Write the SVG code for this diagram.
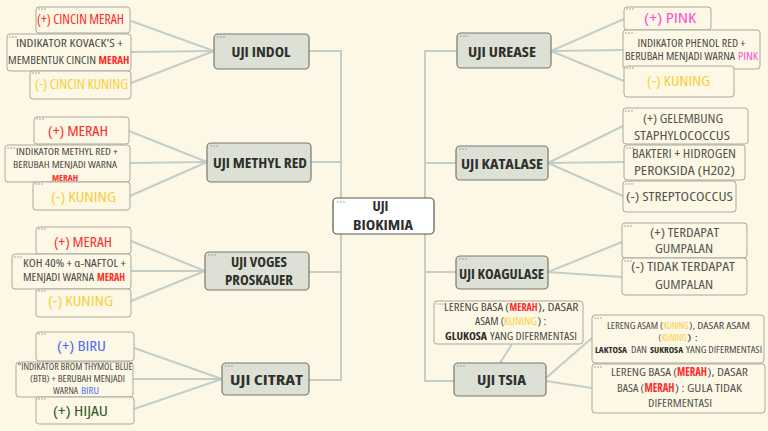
<svg xmlns="http://www.w3.org/2000/svg" width="768" height="431" viewBox="0 0 768 431">
<defs>
<style>
.bg{fill:#fdf8e6}
.main{fill:#dde0d5;stroke:#77786f;stroke-width:1.2}
.root{fill:#ffffff;stroke:#55564f;stroke-width:1.2}
.leaf{fill:#fdf8e6;stroke:#a9a89d;stroke-width:1}
.conn line,.conn polyline{stroke:#c3cec9;stroke-width:2;fill:none}
text{font-family:"Open Sans","Liberation Sans",sans-serif;font-stretch:75%;text-anchor:middle}
text.s{text-anchor:start}
.mt{font-size:14.5px;font-weight:700;fill:#2f302c}
.rt{font-size:13.5px;font-weight:700;fill:#2f302c}
.ct{font-size:15px}
.st{font-size:11px;fill:#4a4a45}
.xs{font-size:9.5px;fill:#4a4a45}
.x10{font-size:10px;fill:#4a4a45}
.x9{font-size:8.5px;fill:#4a4a45}
.tn{font-size:8.5px;fill:#4a4a45}
.gt{font-size:12.3px;fill:#55554f}
.g12{font-size:11.5px;fill:#55554f}
text.r{fill:#ff2b2b}
text.rb{fill:#ff2b2b;font-weight:700}
text.y{fill:#f5cf3c}
text.p{fill:#ff4fcf}
text.b{fill:#4c6ef5}
text.g{fill:#2d5f22}
text.k{fill:#2a2a26;font-weight:700}
.dot{fill:#9a998f}
</style>
<symbol id="dots" viewBox="0 0 8 2" width="8" height="2"><circle class="dot" cx="1" cy="1" r="0.8"/><circle class="dot" cx="4" cy="1" r="0.8"/><circle class="dot" cx="7" cy="1" r="0.8"/></symbol>
</defs>
<rect class="bg" x="0" y="0" width="768" height="431"/>

<g id="connectors" class="conn">
<polyline points="309,51 341,51 341,380 309,380"/>
<line x1="311" y1="162" x2="341" y2="162"/>
<line x1="309" y1="272" x2="341" y2="272"/>
<polyline points="457,51 425,51 425,381 454,381"/>
<line x1="425" y1="163" x2="456" y2="163"/>
<line x1="425" y1="272" x2="456" y2="272"/>
<line x1="214" y1="51" x2="131" y2="21"/>
<line x1="214" y1="51" x2="131" y2="52"/>
<line x1="214" y1="51" x2="131" y2="83"/>
<line x1="207" y1="162" x2="129" y2="131"/>
<line x1="207" y1="162" x2="130" y2="163"/>
<line x1="207" y1="162" x2="130" y2="196"/>
<line x1="205" y1="271" x2="131" y2="241"/>
<line x1="205" y1="271" x2="131" y2="271"/>
<line x1="205" y1="271" x2="131" y2="301"/>
<line x1="222" y1="379" x2="134" y2="348"/>
<line x1="222" y1="379" x2="133" y2="379"/>
<line x1="222" y1="379" x2="134" y2="409"/>
<line x1="551" y1="51" x2="624" y2="19"/>
<line x1="551" y1="51" x2="623" y2="50"/>
<line x1="551" y1="51" x2="624" y2="81"/>
<line x1="548" y1="163" x2="623" y2="126"/>
<line x1="548" y1="163" x2="624" y2="162"/>
<line x1="548" y1="163" x2="623" y2="196"/>
<line x1="548" y1="272" x2="622" y2="242"/>
<line x1="548" y1="272" x2="622" y2="277"/>
<line x1="500" y1="363" x2="512" y2="344"/>
<line x1="546" y1="378" x2="592" y2="338"/>
<line x1="546" y1="381" x2="592" y2="388"/>
</g>

<g id="root">
<rect class="root" x="333" y="198" width="101" height="36" rx="4"/>
<use href="#dots" x="337" y="201"/>
<text class="rt" x="380.5" y="211" textLength="16" lengthAdjust="spacingAndGlyphs">UJI</text>
<text class="rt" x="383" y="229.5" textLength="60" lengthAdjust="spacingAndGlyphs">BIOKIMIA</text>
</g>

<g id="uji-indol">
<rect class="main" x="214" y="34" width="95" height="35" rx="4"/>
<use href="#dots" x="217" y="36"/>
<text class="mt" x="261" y="57" textLength="59" lengthAdjust="spacingAndGlyphs">UJI INDOL</text>
</g>
<g id="indol-pos">
<rect class="leaf" x="36" y="7" width="94" height="26" rx="3"/>
<use href="#dots" x="38" y="8"/>
<text class="ct r" x="80.5" y="24" textLength="87" lengthAdjust="spacingAndGlyphs">(+) CINCIN MERAH</text>
</g>
<g id="indol-desc">
<rect class="leaf" x="7" y="34" width="124" height="37" rx="3"/>
<use href="#dots" x="9" y="36"/>
<text class="st" x="69.5" y="47" textLength="107" lengthAdjust="spacingAndGlyphs">INDIKATOR KOVACK'S +</text>
<text class="st s" x="8" y="64" textLength="88" lengthAdjust="spacingAndGlyphs">MEMBENTUK CINCIN</text>
<text class="st s rb" x="98.5" y="64" textLength="31" lengthAdjust="spacingAndGlyphs">MERAH</text>
</g>
<g id="indol-neg">
<rect class="leaf" x="30" y="71" width="101" height="28" rx="3"/>
<use href="#dots" x="32" y="72"/>
<text class="ct y" x="81.5" y="89" textLength="93" lengthAdjust="spacingAndGlyphs">(-) CINCIN KUNING</text>
</g>

<g id="uji-methyl-red">
<rect class="main" x="207" y="143" width="104" height="39" rx="4"/>
<use href="#dots" x="210" y="145"/>
<text class="mt" x="260" y="168" textLength="94" lengthAdjust="spacingAndGlyphs">UJI METHYL RED</text>
</g>
<g id="mr-pos">
<rect class="leaf" x="34" y="117" width="95" height="27" rx="3"/>
<use href="#dots" x="36" y="118"/>
<text class="ct r" x="78" y="136" textLength="60" lengthAdjust="spacingAndGlyphs">(+) MERAH</text>
</g>
<g id="mr-desc">
<rect class="leaf" x="5" y="145" width="125" height="37" rx="3"/>
<use href="#dots" x="7" y="147"/>
<text class="xs" x="67" y="155" textLength="102" lengthAdjust="spacingAndGlyphs">INDIKATOR METHYL RED +</text>
<text class="xs" x="65" y="167.5" textLength="104" lengthAdjust="spacingAndGlyphs">BERUBAH MENJADI  WARNA</text>
<text class="xs rb" x="65" y="181" textLength="26" lengthAdjust="spacingAndGlyphs">MERAH</text>
</g>
<g id="mr-neg">
<rect class="leaf" x="33" y="182" width="97" height="28" rx="3"/>
<use href="#dots" x="35" y="183"/>
<text class="ct y" x="83.5" y="202" textLength="65" lengthAdjust="spacingAndGlyphs">(-) KUNING</text>
</g>

<g id="uji-voges-proskauer">
<rect class="main" x="205" y="252" width="104" height="38" rx="4"/>
<use href="#dots" x="208" y="254"/>
<text class="mt" x="259" y="267" textLength="56" lengthAdjust="spacingAndGlyphs">UJI VOGES</text>
<text class="mt" x="259" y="285" textLength="68" lengthAdjust="spacingAndGlyphs">PROSKAUER</text>
</g>
<g id="vp-pos">
<rect class="leaf" x="36" y="227" width="95" height="27" rx="3"/>
<use href="#dots" x="38" y="228"/>
<text class="ct r" x="83" y="247" textLength="58" lengthAdjust="spacingAndGlyphs">(+) MERAH</text>
</g>
<g id="vp-desc">
<rect class="leaf" x="12" y="254" width="119" height="35" rx="3"/>
<use href="#dots" x="14" y="256"/>
<text class="x10" x="74.5" y="267" textLength="103" lengthAdjust="spacingAndGlyphs">KOH 40% + α-NAFTOL +</text>
<text class="x10 s" x="23" y="281" textLength="71" lengthAdjust="spacingAndGlyphs">MENJADI WARNA</text>
<text class="x10 s rb" x="97" y="281" textLength="28" lengthAdjust="spacingAndGlyphs">MERAH</text>
</g>
<g id="vp-neg">
<rect class="leaf" x="36" y="289" width="95" height="28" rx="3"/>
<use href="#dots" x="38" y="290"/>
<text class="ct y" x="80.5" y="306" textLength="65" lengthAdjust="spacingAndGlyphs">(-) KUNING</text>
</g>

<g id="uji-citrat">
<rect class="main" x="222" y="363" width="87" height="32" rx="4"/>
<use href="#dots" x="225" y="365"/>
<text class="mt" x="266.5" y="385" textLength="73" lengthAdjust="spacingAndGlyphs">UJI CITRAT</text>
</g>
<g id="ct-pos">
<rect class="leaf" x="36" y="332" width="98" height="29" rx="3"/>
<use href="#dots" x="38" y="333"/>
<text class="ct b" x="81.5" y="351" textLength="49" lengthAdjust="spacingAndGlyphs">(+) BIRU</text>
</g>
<g id="ct-desc">
<rect class="leaf" x="16" y="362" width="117" height="35" rx="3"/>
<text class="x9" x="75" y="370" textLength="115" lengthAdjust="spacingAndGlyphs">"INDIKATOR BROM THYMOL BLUE</text>
<text class="x9" x="77.5" y="382" textLength="95" lengthAdjust="spacingAndGlyphs">(BTB) + BERUBAH MENJADI</text>
<text class="x9 s" x="53" y="394" textLength="25" lengthAdjust="spacingAndGlyphs">WARNA</text>
<text class="x9 s b" x="81" y="394" textLength="18" lengthAdjust="spacingAndGlyphs">BIRU</text>
</g>
<g id="ct-hijau">
<rect class="leaf" x="36" y="397" width="98" height="27" rx="3"/>
<use href="#dots" x="38" y="398"/>
<text class="ct g" x="80.5" y="416" textLength="55" lengthAdjust="spacingAndGlyphs">(+) HIJAU</text>
</g>

<g id="uji-urease">
<rect class="main" x="457" y="33" width="94" height="35" rx="4"/>
<use href="#dots" x="460" y="35"/>
<text class="mt" x="502" y="57" textLength="68" lengthAdjust="spacingAndGlyphs">UJI UREASE</text>
</g>
<g id="ur-pos">
<rect class="leaf" x="624" y="7" width="87" height="23" rx="3"/>
<use href="#dots" x="626" y="8"/>
<text class="ct p" x="670" y="23" style="font-size:14px" textLength="52" lengthAdjust="spacingAndGlyphs">(+) PINK</text>
</g>
<g id="ur-desc">
<rect class="leaf" x="623" y="30" width="137" height="39" rx="3"/>
<use href="#dots" x="625" y="32"/>
<text class="x10" x="691.5" y="46.5" textLength="108" lengthAdjust="spacingAndGlyphs">INDIKATOR PHENOL RED +</text>
<text class="x10 s" x="625" y="60" textLength="110" lengthAdjust="spacingAndGlyphs">BERUBAH MENJADI WARNA</text>
<text class="x10 s p" x="738" y="60" textLength="20" lengthAdjust="spacingAndGlyphs">PINK</text>
</g>
<g id="ur-neg">
<rect class="leaf" x="624" y="66" width="110" height="31" rx="3"/>
<use href="#dots" x="626" y="67"/>
<text class="ct y" x="678.5" y="86" textLength="63" lengthAdjust="spacingAndGlyphs">(-) KUNING</text>
</g>

<g id="uji-katalase">
<rect class="main" x="456" y="146" width="92" height="34" rx="4"/>
<use href="#dots" x="459" y="148"/>
<text class="mt" x="502" y="169" textLength="82" lengthAdjust="spacingAndGlyphs">UJI KATALASE</text>
</g>
<g id="kt-pos">
<rect class="leaf" x="623" y="108" width="125" height="36" rx="3"/>
<use href="#dots" x="625" y="110"/>
<text class="gt" x="683" y="123" textLength="80" lengthAdjust="spacingAndGlyphs">(+) GELEMBUNG</text>
<text class="gt" x="682" y="140" textLength="96" lengthAdjust="spacingAndGlyphs">STAPHYLOCOCCUS</text>
</g>
<g id="kt-desc">
<rect class="leaf" x="624" y="145" width="121" height="35" rx="3"/>
<use href="#dots" x="626" y="147"/>
<text class="gt" x="684" y="158" textLength="104" lengthAdjust="spacingAndGlyphs">BAKTERI + HIDROGEN</text>
<text class="gt" x="684.5" y="175" textLength="101" lengthAdjust="spacingAndGlyphs">PEROKSIDA (H202)</text>
</g>
<g id="kt-neg">
<rect class="leaf" x="623" y="181" width="113" height="31" rx="3"/>
<use href="#dots" x="625" y="183"/>
<text class="gt" x="679.5" y="201" textLength="107" lengthAdjust="spacingAndGlyphs">(-) STREPTOCOCCUS</text>
</g>

<g id="uji-koagulase">
<rect class="main" x="456" y="256" width="92" height="33" rx="4"/>
<use href="#dots" x="459" y="258"/>
<text class="mt" x="501.5" y="279" textLength="85" lengthAdjust="spacingAndGlyphs">UJI KOAGULASE</text>
</g>
<g id="ko-pos">
<rect class="leaf" x="622" y="223" width="125" height="35" rx="3"/>
<use href="#dots" x="624" y="225"/>
<text class="gt" x="684.5" y="236.5" textLength="69" lengthAdjust="spacingAndGlyphs">(+) TERDAPAT</text>
<text class="gt" x="684" y="253" textLength="58" lengthAdjust="spacingAndGlyphs">GUMPALAN</text>
</g>
<g id="ko-neg">
<rect class="leaf" x="622" y="258" width="125" height="37" rx="3"/>
<use href="#dots" x="624" y="260"/>
<text class="gt" x="683" y="271" textLength="104" lengthAdjust="spacingAndGlyphs">(-) TIDAK TERDAPAT</text>
<text class="gt" x="684" y="289" textLength="58" lengthAdjust="spacingAndGlyphs">GUMPALAN</text>
</g>

<g id="uji-tsia">
<rect class="main" x="454" y="363" width="92" height="33" rx="4"/>
<use href="#dots" x="457" y="365"/>
<text class="mt" x="501.5" y="385" textLength="49" lengthAdjust="spacingAndGlyphs">UJI TSIA</text>
</g>
<g id="ts-glukosa">
<rect class="leaf" x="434" y="301" width="149" height="43" rx="3"/>
<use href="#dots" x="436" y="303"/>
<text class="x10 s" x="444" y="311" textLength="65" lengthAdjust="spacingAndGlyphs">LERENG BASA (</text>
<text class="x10 s rb" x="509.5" y="311" textLength="28" lengthAdjust="spacingAndGlyphs">MERAH</text>
<text class="x10 s" x="538" y="311" textLength="40.5" lengthAdjust="spacingAndGlyphs">), DASAR</text>
<text class="x10 s" x="475" y="325" textLength="29" lengthAdjust="spacingAndGlyphs">ASAM (</text>
<text class="x10 s y" x="504" y="325" textLength="33" lengthAdjust="spacingAndGlyphs">KUNING</text>
<text class="x10 s" x="537.5" y="325" textLength="9" lengthAdjust="spacingAndGlyphs">) :</text>
<text class="x10 s k" x="445" y="340" textLength="42" lengthAdjust="spacingAndGlyphs">GLUKOSA</text>
<text class="x10 s" x="490" y="340" textLength="87" lengthAdjust="spacingAndGlyphs">YANG DIFERMENTASI</text>
</g>
<g id="ts-laktosa">
<rect class="leaf" x="592" y="315" width="172" height="48" rx="3"/>
<use href="#dots" x="594" y="317"/>
<text class="tn s" x="607" y="329" textLength="56" lengthAdjust="spacingAndGlyphs">LERENG ASAM (</text>
<text class="tn s y" x="663.5" y="329" textLength="25" lengthAdjust="spacingAndGlyphs">KUNING</text>
<text class="tn s" x="689" y="329" textLength="61" lengthAdjust="spacingAndGlyphs">), DASAR ASAM</text>
<text class="tn s" x="658.5" y="341" textLength="2.5" lengthAdjust="spacingAndGlyphs">(</text>
<text class="tn s y" x="661.5" y="341" textLength="25" lengthAdjust="spacingAndGlyphs">KUNING</text>
<text class="tn s" x="687" y="341" textLength="11" lengthAdjust="spacingAndGlyphs">) :</text>
<text class="tn s k" x="595" y="353" textLength="32" lengthAdjust="spacingAndGlyphs">LAKTOSA</text>
<text class="tn s" x="631" y="353" textLength="16" lengthAdjust="spacingAndGlyphs">DAN</text>
<text class="tn s k" x="650" y="353" textLength="33" lengthAdjust="spacingAndGlyphs">SUKROSA</text>
<text class="tn s" x="686" y="353" textLength="76" lengthAdjust="spacingAndGlyphs">YANG DIFERMENTASI</text>
</g>
<g id="ts-gula">
<rect class="leaf" x="592" y="364" width="173" height="49" rx="3"/>
<use href="#dots" x="594" y="366"/>
<text class="g12 s" x="611" y="376" textLength="66" lengthAdjust="spacingAndGlyphs">LERENG BASA (</text>
<text class="g12 s rb" x="677" y="376" textLength="30" lengthAdjust="spacingAndGlyphs">MERAH</text>
<text class="g12 s" x="707.5" y="376" textLength="40.5" lengthAdjust="spacingAndGlyphs">), DASAR</text>
<text class="g12 s" x="617" y="391.5" textLength="27" lengthAdjust="spacingAndGlyphs">BASA (</text>
<text class="g12 s rb" x="644.5" y="391.5" textLength="30" lengthAdjust="spacingAndGlyphs">MERAH</text>
<text class="g12 s" x="675" y="391.5" textLength="67" lengthAdjust="spacingAndGlyphs">) : GULA TIDAK</text>
<text class="g12" x="680" y="407" textLength="64" lengthAdjust="spacingAndGlyphs">DIFERMENTASI</text>
</g>
</svg>
